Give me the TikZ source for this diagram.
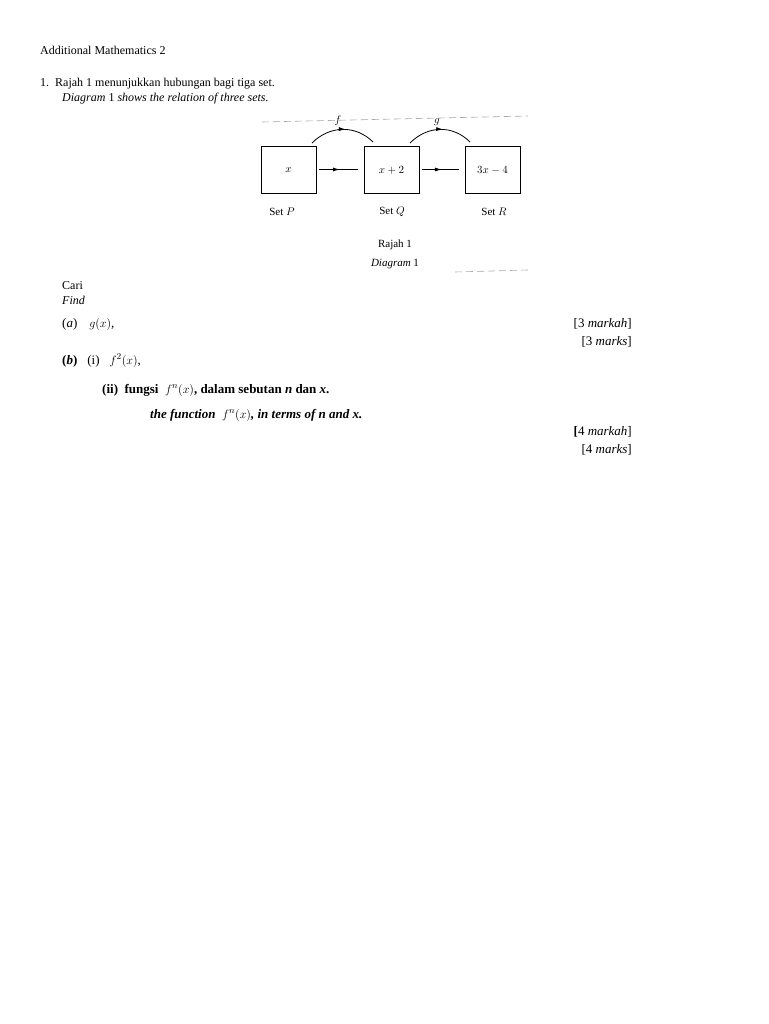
\documentclass[tikz,border=0pt]{standalone}
\usepackage{fontspec}
\setmainfont{Liberation Serif}
\usetikzlibrary{decorations.markings,arrows.meta}
\begin{document}
\begin{tikzpicture}[x=1pt,y=-1pt,
  txt/.style={anchor=base west,inner sep=0,font=\fontsize{12}{14}\selectfont},
  btxt/.style={anchor=base west,inner sep=0,font=\fontsize{13}{15}\selectfont\bfseries},
  rtxt/.style={anchor=base east,inner sep=0,font=\fontsize{13}{15}\selectfont},
  dtxt/.style={inner sep=0,font=\fontsize{11}{13}\selectfont},
  box/.style={draw,line width=1pt,minimum width=55pt,minimum height=47pt,inner sep=0,font=\fontsize{11}{13}\selectfont},
  midarrow/.style={line width=0.8pt,decoration={markings,mark=at position 0.55 with {\arrow{Latex[length=7pt,width=4pt]}}},postaction={decorate}},
  grdash/.style={gray!70,dash pattern=on 7pt off 4pt,line width=0.6pt}]
\useasboundingbox (0,0) rectangle (768,1024);
\node[txt] (t0) at (40,55) {Additional Mathematics 2};
\node[txt] (t1) at (40,87) {1.\ \ Rajah 1 menunjukkan hubungan bagi tiga set.};
\node[txt] (t2) at (62,102) {\textit{Diagram} 1 \textit{shows the relation of three sets.}};
% diagram
\coordinate (d1) at (262,122); \coordinate (d2) at (528,116);
\coordinate (d3) at (455,272); \coordinate (d4) at (528,270);
\draw[grdash] (d1) -- (d2);
\draw[grdash] (d3) -- (d4);
\node[box] (P) at (288.5,170.5) {$x$};
\node[box] (Q) at (391.5,170.5) {$x+2$};
\node[box] (R) at (492.5,170.5) {$3x-4$};
\draw[midarrow] ([xshift=2pt,yshift=1pt]P.east) -- ([xshift=-6pt,yshift=1pt]Q.west);
\draw[midarrow] ([xshift=2pt,yshift=1pt]Q.east) -- ([xshift=-6pt,yshift=1pt]R.west);
\coordinate (a1) at (312,143); \coordinate (a2) at (373,142);
\coordinate (b1) at (410,143); \coordinate (b2) at (470,142);
\draw[midarrow] (a1) .. controls (330,125) and (356,125) .. (a2);
\draw[midarrow] (b1) .. controls (428,125) and (453,125) .. (b2);
\node[dtxt] (f) at (338,121) {$f$};
\node[dtxt] (g) at (437,122) {$g$};
\node[dtxt] (sP) at (282,212) {Set $P$};
\node[dtxt] (sQ) at (392,212) {Set $Q$};
\node[dtxt] (sR) at (494,212) {Set $R$};
\node[dtxt] (rj) at (395,245) {Rajah 1};
\node[dtxt] (dg) at (395,264) {\textit{Diagram} 1};
% questions
\node[txt] (c) at (62,289) {Cari};
\node[txt] (fi) at (62,304) {\textit{Find}};
\node[anchor=base west,inner sep=0,font=\fontsize{13}{15}\selectfont] (qa) at (62,327) {(\textit{a})\hspace{12pt}$g(x)$,};
\node[rtxt] (m1) at (632,327) {[3 \textit{markah}]};
\node[rtxt] (m2) at (632,345) {[3 \textit{marks}]};
\node[btxt] (qb) at (62,364) {(\textit{b})\hspace{10pt}\mdseries(i)\hspace{10pt}$f^2(x)$,};
\node[btxt] (qb2) at (102,393) {(ii)\ \ fungsi\ \ $f^n(x)$, dalam sebutan \textit{n} dan \textit{x}.};
\node[btxt] (qb3) at (150,418) {\textit{the function\ \ $f^n(x)$, in terms of n and x.}};
\node[rtxt] (m3) at (632,435) {\textbf{[}4 \textit{markah}]};
\node[rtxt] (m4) at (632,453) {[4 \textit{marks}]};
\end{tikzpicture}
\end{document}
